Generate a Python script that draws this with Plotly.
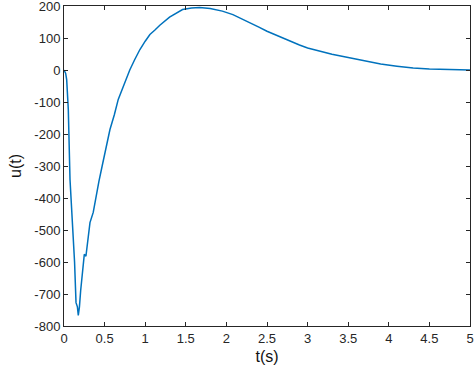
import plotly.graph_objects as go

t_vals = [0, 0.02, 0.033, 0.053, 0.074, 0.1, 0.115, 0.13, 0.148, 0.165, 0.176, 0.19, 0.205,
          0.217, 0.235, 0.25, 0.27, 0.29, 0.32, 0.36, 0.40, 0.43, 0.47, 0.52, 0.566,
          0.62, 0.668, 0.74, 0.81, 0.87, 0.935, 1.0, 1.058, 1.12, 1.18, 1.3, 1.46,
          1.57, 1.67, 1.8, 1.95, 2.08, 2.2, 2.3, 2.4, 2.5, 2.6, 2.7, 2.8, 2.9, 3.0,
          3.15, 3.3, 3.5, 3.7, 3.9, 4.1, 4.3, 4.5, 4.75, 5.0]
u_vals = [0, -10, -30, -123, -342, -450, -530, -600, -727, -740, -767, -740, -690,
          -655, -600, -576, -582, -540, -477, -445, -383, -348, -300, -240, -186,
          -140, -92, -45, 0, 32, 64, 90, 111, 125, 140, 165, 189,
          194, 195, 192, 184, 173, 159, 146, 134, 121, 110, 99, 88, 78, 69,
          58, 49, 39, 28, 19, 12, 6, 3, 1, 0]

x_ticks = [0, 0.5, 1, 1.5, 2, 2.5, 3, 3.5, 4, 4.5, 5]
x_tick_text = ["0", "0.5", "1", "1.5", "2", "2.5", "3", "3.5", "4", "4.5", "5"]
y_ticks = [-800, -700, -600, -500, -400, -300, -200, -100, 0, 100, 200]
y_tick_text = ["-800", "-700", "-600", "-500", "-400", "-300", "-200", "-100", "0", "100", "200"]

FONT = "Liberation Sans, Arial, Helvetica"
fig = go.Figure()
fig.add_trace(go.Scatter(x=t_vals, y=u_vals, mode="lines",
                         line=dict(color="#0072BD", width=1.5), showlegend=False))

axis_common = dict(showline=True, linecolor="#262626", linewidth=1, mirror="ticks",
                   ticks="inside", ticklen=4, tickcolor="#262626", showgrid=False,
                   zeroline=False, automargin=False, ticklabeloverflow="allow",
                   tickfont=dict(family=FONT, size=13, color="#262626"))

fig.update_layout(
    width=474, height=377,
    margin=dict(l=64, r=4, t=6, b=51),
    plot_bgcolor="white", paper_bgcolor="white",
    xaxis=dict(range=[0, 5], tickvals=x_ticks, ticktext=x_tick_text,
               title=dict(text="t(s)", font=dict(family=FONT, size=16, color="#111111"), standoff=6),
               **axis_common),
    yaxis=dict(range=[-800, 200], tickvals=y_ticks, ticktext=y_tick_text,
               title=dict(text="u(t)", font=dict(family=FONT, size=16, color="#111111"), standoff=8),
               **axis_common),
)

fig.write_html("out.html", config={"displayModeBar": False},
               post_script="document.body.style.margin='0';document.body.style.padding='0';document.body.style.overflow='hidden';")
